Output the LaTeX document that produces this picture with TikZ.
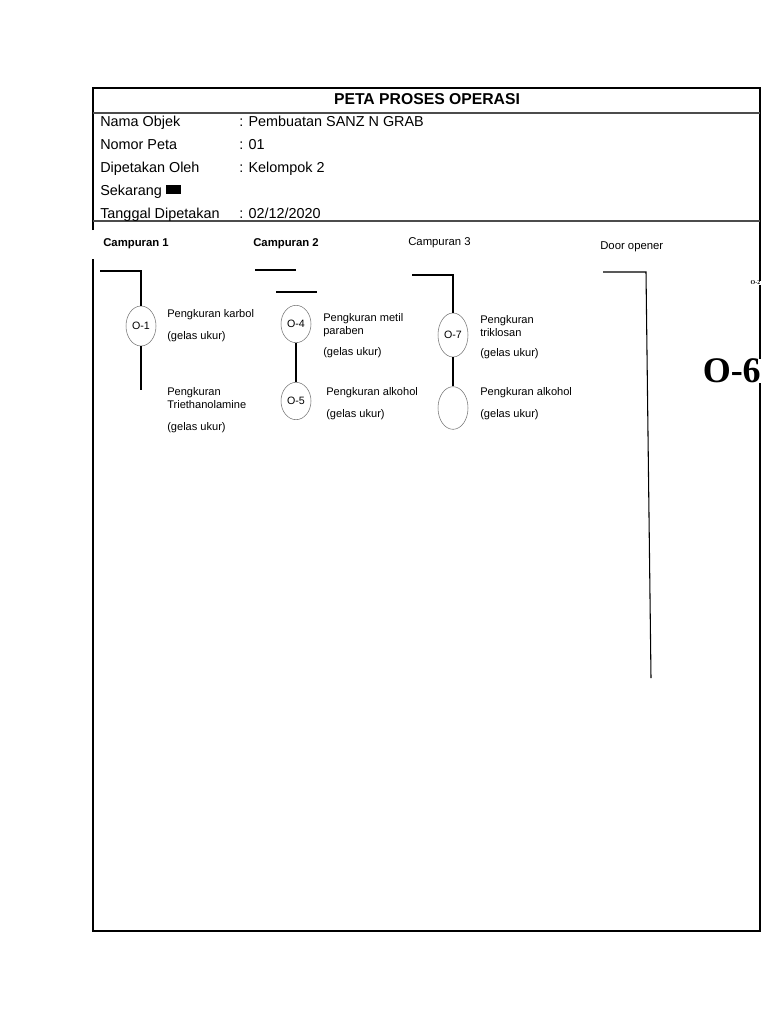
\documentclass[tikz,border=0pt]{standalone}
\usepackage{fontspec}
\setmainfont{Liberation Sans}
\newfontfamily\timesbold[BoldFont={Liberation Serif Bold}]{Liberation Serif}
\usetikzlibrary{shapes.geometric, positioning}

\begin{document}
\begin{tikzpicture}[x=0.75pt, y=-0.75pt,
    opcircle/.style={draw=black!55, ellipse, minimum width=22.5pt, minimum height=30pt, inner sep=0pt, font=\fontsize{8}{9}\selectfont},
    lbl/.style={anchor=west, align=left, inner sep=0pt, font=\fontsize{8.3}{9.8}\selectfont},
    hdr/.style={anchor=base west, inner sep=0pt, font=\fontsize{10.8}{13}\selectfont},
    mix/.style={anchor=west, inner sep=0pt, font=\fontsize{8.5}{10}\selectfont},
    rule/.style={black, line width=0.8pt}]
  \useasboundingbox (0,0) rectangle (768,1024);
  % Frame
  \draw[rule] (93,230) -- (93,88) -- (760,88) -- (760,931) -- (93,931) -- (93,259);
  \draw[rule, black!70] (93,113) -- (760,113);
  \draw[rule, black!70] (93,221) -- (760,221);
  % Header
  \node[inner sep=0pt, font=\fontsize{11.8}{14}\selectfont\bfseries] (title) at (427,99) {PETA PROSES OPERASI};
  \foreach \name/\y/\txt in {nama/126/Nama Objek, nomor/149/Nomor Peta, oleh/172/Dipetakan Oleh, sekarang/195/Sekarang, tanggal/218/Tanggal Dipetakan} {
    \node[hdr] (\name) at (100,\y) {\txt};
  }
  \foreach \name/\y/\txt in {namav/126/{: Pembuatan SANZ N GRAB}, nomorv/149/{: 01}, olehv/172/{: Kelompok 2}, tanggalv/218/{: 02/12/2020}} {
    \node[hdr] (\name) at (239,\y) {\txt};
  }
  \fill (166,185) rectangle (181,194);
  % Mixtures
  \node[mix, font=\fontsize{8.5}{10}\selectfont\bfseries] (cp1) at (103,244) {Campuran 1};
  \node[mix, font=\fontsize{8.5}{10}\selectfont\bfseries] (cp2) at (253,244) {Campuran 2};
  \node[mix] (cp3) at (408,243) {Campuran 3};
  \node[mix] (door) at (600,247) {Door opener};
  % Operations
  \node[opcircle] (o1) at (141,326) {O-1};
  \node[opcircle, minimum height=28pt] (o4) at (296,324) {O-4};
  \node[opcircle, minimum height=28pt] (o5) at (296,401) {O-5};
  \node[opcircle, minimum height=33pt] (o7) at (453,335) {O-7};
  \node[opcircle, minimum height=32pt] (o8) at (453,408) {};
  % Flow lines
  \coordinate (c1) at (100,271);
  \coordinate (c1end) at (141,390);
  \draw[rule] (c1) -| (o1.north);
  \draw[rule] (o1.south) -- (c1end);
  \coordinate (c2a) at (255,270);
  \coordinate (c2b) at (296,270);
  \coordinate (c2c) at (276,292);
  \coordinate (c2d) at (317,292);
  \draw[rule] (c2a) -- (c2b);
  \draw[rule] (c2c) -- (c2d);
  \draw[rule] (o4.south) -- (o5.north);
  \coordinate (c3) at (412,275);
  \draw[rule] (c3) -| (o7.north);
  \draw[rule] (o7.south) -- (o8.north);
  \coordinate (d1) at (603,272);
  \coordinate (d2) at (646,272);
  \coordinate (d3) at (651,678);
  \draw[rule] (d1) -- (d2) -- (d3);
  % Labels
  \node[lbl] (l1a) at (167,315) {Pengkuran karbol};
  \node[lbl] (l1b) at (167,337) {(gelas ukur)};
  \node[lbl] (l2a) at (167,398.5) {Pengkuran\\Triethanolamine};
  \node[lbl] (l2b) at (167,428) {(gelas ukur)};
  \node[lbl] (l4a) at (323,325) {Pengkuran metil\\paraben};
  \node[lbl] (l4b) at (323,353) {(gelas ukur)};
  \node[lbl] (l5a) at (326,393) {Pengkuran alkohol};
  \node[lbl] (l5b) at (326,415) {(gelas ukur)};
  \node[lbl] (l7a) at (480,326.5) {Pengkuran\\triklosan};
  \node[lbl] (l7b) at (480,354) {(gelas ukur)};
  \node[lbl] (l8a) at (480,393) {Pengkuran alkohol};
  \node[lbl] (l8b) at (480,415) {(gelas ukur)};
  % Right side marks
  \node[anchor=east, fill=white, inner sep=0.3pt, font=\timesbold\fontsize{4.5}{5}\selectfont\bfseries] (o2) at (761,283) {O-2};
  \node[anchor=east, fill=white, inner sep=0pt, font=\timesbold\fontsize{27}{30}\selectfont\bfseries] (o6) at (761,371) {O-6};
\end{tikzpicture}
\end{document}
